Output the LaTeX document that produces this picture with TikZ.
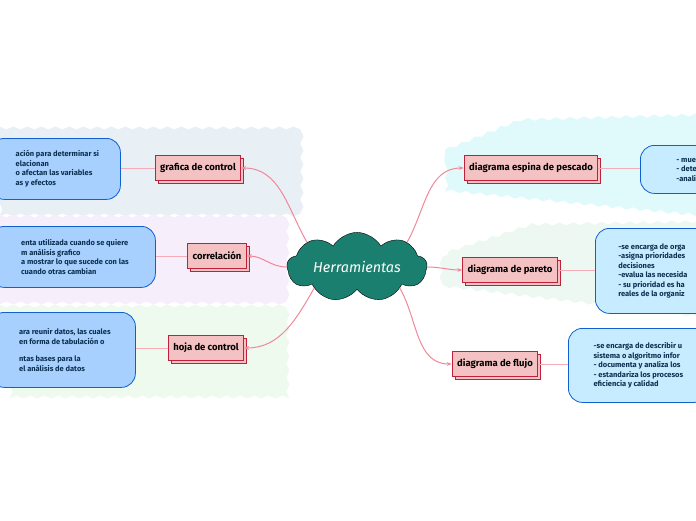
\documentclass[tikz,border=0pt]{standalone}
\usepackage{fontspec}
\setmainfont{Fira Sans}
\usetikzlibrary{shapes.symbols,decorations.pathmorphing,shadows,arrows.meta}
\definecolor{teal1}{HTML}{1B7F70}
\definecolor{pinkf}{HTML}{F4C2C2}
\definecolor{pinkd}{HTML}{C0203A}
\definecolor{conn}{HTML}{F08898}
\definecolor{bluef}{HTML}{A8D0FF}
\definecolor{blued}{HTML}{1060D0}
\definecolor{cyanf}{HTML}{C8ECFF}
\definecolor{txt}{HTML}{0B3050}
\tikzset{
 topic/.style={draw=pinkd,fill=pinkf,line width=0.8pt,font=\bfseries\fontsize{9.5}{11}\selectfont,inner sep=5pt,minimum height=25pt,
   copy shadow={shadow xshift=3pt,shadow yshift=-3pt,draw=pinkd,fill=pinkf}},
 note/.style={rounded corners=14pt,line width=0.8pt,font=\fontsize{7.5}{9.5}\selectfont\bfseries,text=txt,align=left,inner sep=6pt,anchor=north west},
 link/.style={conn,line width=1pt,-{Stealth[length=5pt]}},
 thin/.style={conn!70,line width=0.6pt},
 bgwave/.style={decorate,decoration={snake,amplitude=1.5pt,segment length=14pt}}
}
\begin{document}
\begin{tikzpicture}[x=1pt,y=-1pt]
\useasboundingbox (0,0) rectangle (696,520);
\clip (0,0) rectangle (696,520);
\fill[bgwave,fill={rgb,255:red,232;green,240;blue,246}] (-5,128) -- (300,128) -- (300,208) -- (-5,208) -- cycle;
\fill[bgwave,fill={rgb,255:red,246;green,238;blue,251}] (-5,216) -- (285,216) -- (285,300) -- (-5,300) -- cycle;
\fill[bgwave,fill={rgb,255:red,238;green,250;blue,238}] (-5,306) -- (280,306) -- (280,398) -- (-5,398) -- cycle;
\fill[bgwave,fill={rgb,255:red,224;green,250;blue,252}] (445,150) -- (520,120) -- (700,115) -- (700,215) -- (445,190) -- cycle;
\fill[bgwave,fill={rgb,255:red,238;green,248;blue,243}] (448,252) -- (530,225) -- (700,222) -- (700,320) -- (448,290) -- cycle;
\node[cloud,cloud puffs=9,cloud puff arc=120,aspect=2.6,draw=black,fill=teal1,text=white,font=\Large\itshape,minimum width=140pt,minimum height=62pt,inner sep=0pt] (c) at (357,267) {Herramientas};
\node[topic] (t1) at (198,168) {grafica de control};
\node[topic] (t2) at (217,256) {correlación};
\node[topic] (t3) at (206,348) {hoja de control};
\node[topic] (t4) at (531,168) {diagrama espina de pescado};
\node[topic] (t5) at (510,270) {diagrama de pareto};
\node[topic] (t6) at (495,364) {diagrama de flujo};
\node[note,draw=blued,fill=bluef,minimum width=130pt,minimum height=61pt] (n1) at (-10,138) {\hspace*{4pt}ación para determinar si\\\hspace*{4pt}elacionan\\\hspace*{4pt}o afectan las variables\\\hspace*{4pt}as y efectos};
\node[note,draw=blued,fill=bluef,minimum width=165pt,minimum height=61pt] (n2) at (-10,226) {\hspace*{4pt}enta utilizada cuando se quiere\\\hspace*{4pt}m análisis grafico\\\hspace*{4pt}a mostrar lo que sucede con las\\\hspace*{4pt}cuando otras cambian};
\node[note,draw=blued,fill=bluef,minimum width=145pt,minimum height=75pt] (n3) at (-10,312) {\hspace*{4pt}ara reunir datos, las cuales\\\hspace*{4pt}en forma de tabulación o\\[8pt]\hspace*{4pt}ntas bases para la\\\hspace*{4pt}el análisis de datos};
\node[note,draw=blued,fill=cyanf,minimum width=80pt,minimum height=48pt] (n4) at (640,145) {\hspace*{18pt}- muest\\\hspace*{18pt}- deter\\\hspace*{18pt}-analiz};
\node[note,draw=blued,fill=cyanf,minimum width=115pt,minimum height=85pt] (n5) at (595,228) {-se encarga de orga\\-asigna prioridades\\decisiones\\-evalua las necesida\\- su prioridad es ha\\reales de la organiz};
\node[note,draw=blued,fill=cyanf,minimum width=140pt,minimum height=74pt] (n6) at (568,328) {-se encarga de describir u\\sistema o algoritmo infor\\- documenta y analiza los\\- estandariza los procesos\\eficiencia y calidad};
\draw[link] (c.north west) to[out=120,in=0] (t1.east);
\draw[link] (c.west) to[out=180,in=0] (t2.east);
\draw[link] (c.south west) to[out=240,in=0] (t3.east);
\draw[link] (c.north east) to[out=60,in=180] (t4.west);
\draw[link] (c.east) to[out=0,in=180] (t5.west);
\draw[link] (c.south east) to[out=300,in=180] (t6.west);
\draw[thin] (t1.west) -- (n1.east |- t1.west);
\draw[thin] (t2.west) -- (n2.east |- t2.west);
\draw[thin] (t3.west) -- (n3.east |- t3.west);
\draw[thin] (t4.east) -- (n4.west |- t4.east);
\draw[thin] (t5.east) -- (n5.west |- t5.east);
\draw[thin] (t6.east) -- (n6.west |- t6.east);
\end{tikzpicture}
\end{document}
